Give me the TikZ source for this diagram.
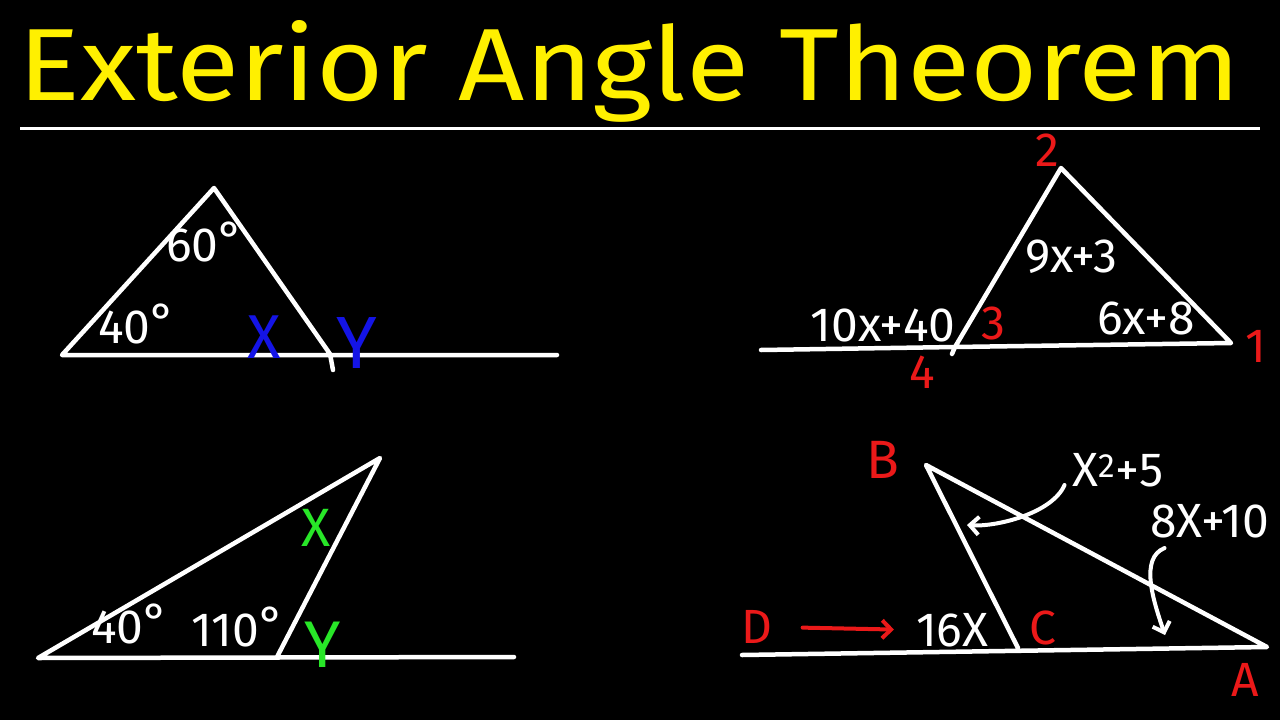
\documentclass[tikz,border=0pt]{standalone}
\usepackage{fontspec}
\setmainfont{Fira Sans}
\usepackage{graphicx}
\usetikzlibrary{arrows.meta,positioning}
\definecolor{titleyellow}{RGB}{255,240,0}
\definecolor{chalkblue}{RGB}{20,20,230}
\definecolor{chalkgreen}{RGB}{40,230,40}
\definecolor{chalkred}{RGB}{235,25,25}
\newcommand{\dg}{\raisebox{6pt}{°}}

\begin{document}
\begin{tikzpicture}[
  x=1pt, y=-1pt,
  stroke/.style={draw=white, line width=4.5pt, line cap=round, line join=round},
  lbl/.style={text=white, font=\fontsize{48}{52}\selectfont, inner sep=0pt},
  vertex/.style={lbl, text=chalkred},
  arrow/.style={draw=white, line width=4pt, line cap=round,
    -{Straight Barb[length=9pt,width=18pt]}},
  redarrow/.style={arrow, draw=chalkred}
]

% Background and title
\fill[black] (0,0) rectangle (1280,720);
\useasboundingbox (0,0) rectangle (1280,720);
\node[anchor=base west, inner sep=0pt, text=titleyellow] (title) at (18,100)
  {\resizebox{1222pt}{80pt}{Exterior Angle Theorem}};
\coordinate (ruleL) at (20,128);
\coordinate (ruleR) at (1260,128);
\draw[white, line width=3pt] (ruleL) -- (ruleR);

% Top left: 40, 60, x, y
\coordinate (tlA) at (62,355);
\coordinate (tlB) at (214,188);
\coordinate (tlC) at (330,354);
\coordinate (tlEnd) at (557,355);
\draw[stroke] (tlEnd) -- (tlA) -- (tlB) -- (tlC) -- ++(3,16);
\node[lbl] (tlsixty) at (205,242) {60\dg};
\node[lbl] (tlforty) at (137,324) {40\dg};
\node[lbl, text=chalkblue, font=\fontsize{62}{62}\selectfont] (tlx) at (264,337) {X};
\node[lbl, text=chalkblue, font=\fontsize{74}{74}\selectfont] (tly) at (357,343) {Y};

% Top right: angles 1 to 4
\coordinate (trD) at (761,350);
\coordinate (trC) at (955,347);
\coordinate (trB) at (1061,168);
\coordinate (trA) at (1231,343);
\draw[stroke] (trD) -- (trC) -- (trA) -- (trB) -- (trC) -- ++(-3,7);
\node[lbl] (tnine) at (1071,257) {9x+3};
\node[lbl] (tsix) at (1146,318) {6x+8};
\node[lbl] (tten) at (883,325) {10x+40};
\node[vertex] (tone) at (1256,346) {1};
\node[vertex] (ttwo) at (1047,150) {2};
\node[vertex] (tthree) at (993,323) {3};
\node[vertex] (tfour) at (922,372) {4};

% Bottom left: 40, 110, x, y
\coordinate (blA) at (38,658);
\coordinate (blB) at (380,458);
\coordinate (blC) at (277,657);
\coordinate (blEnd) at (514,657);
\draw[stroke] (blEnd) -- (blA) -- (blB) -- (blC);
\node[lbl] (blforty) at (130,624) {40\dg};
\node[lbl] (blonet) at (238,627) {110\dg};
\node[lbl, text=chalkgreen, font=\fontsize{54}{54}\selectfont] (blx) at (316,528) {X};
\node[lbl, text=chalkgreen, font=\fontsize{66}{66}\selectfont] (bly) at (323,645) {Y};

% Bottom right: triangle ABC with D
\coordinate (brD) at (742,655);
\coordinate (brC) at (1018,648);
\coordinate (brB) at (926,465);
\coordinate (brA) at (1267,647);
\draw[stroke] (brD) -- (brA) -- (brB) -- (brC);
\node[vertex] (labA) at (1245,680) {A};
\node[vertex, font=\fontsize{54}{54}\selectfont] (labB) at (883,460) {B};
\node[vertex] (labC) at (1043,628) {C};
\node[vertex] (labD) at (757,627) {D};
\node[lbl] (sixteen) at (952,630) {16X};
\node[lbl] (xsq) at (1118,470) {X\textsuperscript{2}+5};
\node[lbl] (eightx) at (1210,521) {8X+10};
\coordinate (angB) at (967,525);
\coordinate (angA) at (1165,635);

% Arrows
\draw[redarrow, shorten <=30pt, shorten >=22pt] (labD.east) -- (sixteen.west);
\draw[arrow] ([shift={(-8,-2)}]xsq.south west) .. controls +(-12,28) and +(30,2) .. (angB);
\draw[arrow] ([shift={(14,10)}]eightx.south west) .. controls +(-25,10) and +(-12,-35) .. (angA);

\end{tikzpicture}
\end{document}
